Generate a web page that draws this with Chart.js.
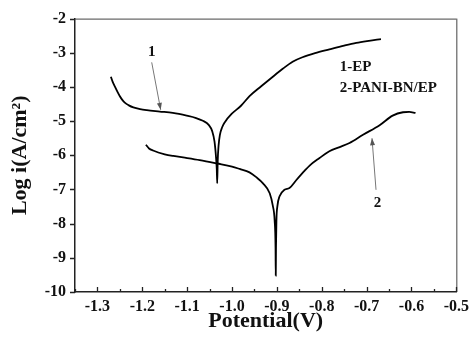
<!DOCTYPE html>
<html>
<head>
<meta charset="utf-8">
<script src="https://cdn.jsdelivr.net/npm/chart.js@4/dist/chart.umd.min.js"></script>
<style>
  html, body { margin: 0; padding: 0; background: #fff; }
  #wrap { width: 474px; height: 346px; }
</style>
</head>
<body>
<div id="wrap"><canvas id="c" width="474" height="346"></canvas></div>
<script>
// ---- data ----
const ep_potential = [-1.270, -1.266, -1.261, -1.255, -1.250, -1.245, -1.239, -1.230, -1.220, -1.205, -1.190, -1.161, -1.132, -1.101, -1.080, -1.065, -1.052, -1.044, -1.039, -1.036, -1.034, -1.033,
  -1.032, -1.030, -1.027, -1.022, -1.016, -1.001, -0.980, -0.961, -0.935, -0.909, -0.887, -0.865, -0.843, -0.815, -0.783, -0.750, -0.723, -0.695, -0.668];
const ep_logi = [-3.70, -3.85, -3.99, -4.15, -4.27, -4.37, -4.46, -4.54, -4.60, -4.65, -4.68, -4.72, -4.76, -4.84, -4.91, -4.99, -5.11, -5.30, -5.60, -6.00, -6.40, -6.82,
  -6.20, -5.72, -5.40, -5.18, -5.03, -4.79, -4.55, -4.27, -3.98, -3.70, -3.47, -3.26, -3.13, -3.01, -2.90, -2.79, -2.71, -2.65, -2.60];

const pani_potential = [-1.192, -1.185, -1.176, -1.150, -1.131, -1.100, -1.072, -1.033, -1.000, -0.983, -0.961, -0.946, -0.931, -0.916, -0.909, -0.905, -0.903, -0.9025,
  -0.902, -0.901, -0.899, -0.894, -0.883, -0.872, -0.857, -0.838, -0.827, -0.805, -0.783, -0.760, -0.738, -0.708, -0.671, -0.642, -0.619, -0.605, -0.591];
const pani_logi = [-5.69, -5.80, -5.86, -5.97, -6.02, -6.08, -6.14, -6.24, -6.33, -6.40, -6.50, -6.64, -6.82, -7.11, -7.48, -7.91, -8.70, -9.52,
  -8.70, -7.90, -7.50, -7.20, -7.01, -6.96, -6.73, -6.45, -6.30, -6.08, -5.88, -5.76, -5.64, -5.40, -5.12, -4.84, -4.74, -4.73, -4.76];

const xTickValues = [-1.3, -1.2, -1.1, -1.0, -0.9, -0.8, -0.7, -0.6, -0.5];
const xMinorValues = [-1.35, -1.25, -1.15, -1.05, -0.95, -0.85, -0.75, -0.65, -0.55];
const yTickValues = [-2, -3, -4, -5, -6, -7, -8, -9, -10];
const legendLines = ['1-EP', '2-PANI-BN/EP'];
const curveLabels = ['1', '2'];

// ---- build ----
function pts(xs, ys) { return xs.map((x, i) => ({ x: x, y: ys[i] })); }
const serif = '"Liberation Serif", "Times New Roman", serif';

const framePlugin = {
  id: 'frame',
  afterDraw(chart) {
    const ctx = chart.ctx, a = chart.chartArea;
    const xs = chart.scales.x, ys = chart.scales.y;
    ctx.save();
    ctx.strokeStyle = '#444';
    ctx.lineWidth = 1;
    ctx.beginPath();
    ctx.moveTo(a.left, a.top + 0.5); ctx.lineTo(a.right, a.top + 0.5);
    ctx.moveTo(a.right + 0.5, a.top); ctx.lineTo(a.right + 0.5, a.bottom);
    ctx.stroke();
    ctx.strokeStyle = '#222';
    ctx.lineWidth = 1.3;
    ctx.beginPath();
    xTickValues.forEach(v => { const p = Math.round(xs.getPixelForValue(v)) + 0.5; ctx.moveTo(p, a.bottom); ctx.lineTo(p, a.bottom - 5); });
    xMinorValues.forEach(v => { const p = Math.round(xs.getPixelForValue(v)) + 0.5; ctx.moveTo(p, a.bottom); ctx.lineTo(p, a.bottom - 3); });
    yTickValues.forEach(v => { const p = Math.round(ys.getPixelForValue(v)) + 0.5; ctx.moveTo(a.left, p); ctx.lineTo(a.left - 5, p); });
    ctx.stroke();

    ctx.fillStyle = '#111';
    ctx.font = 'bold 15px ' + serif;
    ctx.textAlign = 'left';
    ctx.textBaseline = 'middle';
    ctx.fillText(legendLines[0], xs.getPixelForValue(-0.760), ys.getPixelForValue(-3.42));
    ctx.fillText(legendLines[1], xs.getPixelForValue(-0.760), ys.getPixelForValue(-4.03));

    ctx.font = 'bold 15px ' + serif;
    ctx.textAlign = 'center';
    ctx.fillText(curveLabels[0], xs.getPixelForValue(-1.179), ys.getPixelForValue(-2.99));
    ctx.fillText(curveLabels[1], xs.getPixelForValue(-0.676), ys.getPixelForValue(-7.39));

    function arrow(x0, y0, x1, y1) {
      const px0 = xs.getPixelForValue(x0), py0 = ys.getPixelForValue(y0);
      const px1 = xs.getPixelForValue(x1), py1 = ys.getPixelForValue(y1);
      ctx.strokeStyle = '#777';
      ctx.fillStyle = '#555';
      ctx.lineWidth = 1;
      ctx.beginPath(); ctx.moveTo(px0, py0); ctx.lineTo(px1, py1); ctx.stroke();
      const ang = Math.atan2(py1 - py0, px1 - px0);
      const L = 7, W = 2.5;
      ctx.beginPath();
      ctx.moveTo(px1, py1);
      ctx.lineTo(px1 - L * Math.cos(ang) + W * Math.sin(ang), py1 - L * Math.sin(ang) - W * Math.cos(ang));
      ctx.lineTo(px1 - L * Math.cos(ang) - W * Math.sin(ang), py1 - L * Math.sin(ang) + W * Math.cos(ang));
      ctx.closePath(); ctx.fill();
    }
    arrow(-1.179, -3.28, -1.159, -4.67);
    arrow(-0.679, -7.01, -0.688, -5.50);
    ctx.restore();
  }
};

new Chart(document.getElementById('c'), {
  type: 'line',
  data: {
    datasets: [
      { label: 'EP', data: pts(ep_potential, ep_logi), borderColor: '#000', borderWidth: 1.8, pointRadius: 0, cubicInterpolationMode: 'monotone', fill: false },
      { label: 'PANI-BN/EP', data: pts(pani_potential, pani_logi), borderColor: '#000', borderWidth: 1.8, pointRadius: 0, cubicInterpolationMode: 'monotone', fill: false }
    ]
  },
  options: {
    responsive: false,
    animation: false,
    devicePixelRatio: 1,
    layout: { padding: { left: 0, top: 10, right: 16, bottom: 0 } },
    plugins: { legend: { display: false }, tooltip: { enabled: false } },
    scales: {
      x: {
        type: 'linear', min: -1.35, max: -0.5,
        grid: { display: false, drawTicks: false },
        border: { display: true, color: '#222', width: 1.5 },
        afterBuildTicks: s => { s.ticks = xTickValues.map(v => ({ value: v })); },
        afterFit: s => { s.height = 54; },
        ticks: { padding: 5, color: '#111', font: { family: serif, size: 16, weight: 'bold' }, maxRotation: 0, autoSkip: false,
                 callback: v => Number(v).toFixed(1) },
        title: { display: true, text: 'Potential(V)', color: '#111', font: { family: serif, size: 22, weight: 'bold' }, padding: { top: 0, bottom: 11 } }
      },
      y: {
        type: 'linear', min: -10, max: -2,
        grid: { display: false, drawTicks: false },
        border: { display: true, color: '#222', width: 1.5 },
        afterBuildTicks: s => { s.ticks = yTickValues.map(v => ({ value: v })); },
        afterFit: s => { s.width = 75; },
        ticks: { padding: 9, color: '#111', font: { family: serif, size: 16, weight: 'bold' }, autoSkip: false,
                 callback: v => String(v) },
        title: { display: true, text: 'Log i(A/cm²)', color: '#111', font: { family: serif, size: 22, weight: 'bold' }, padding: { top: 7, bottom: 0 } }
      }
    }
  },
  plugins: [framePlugin]
});
</script>
</body>
</html>
